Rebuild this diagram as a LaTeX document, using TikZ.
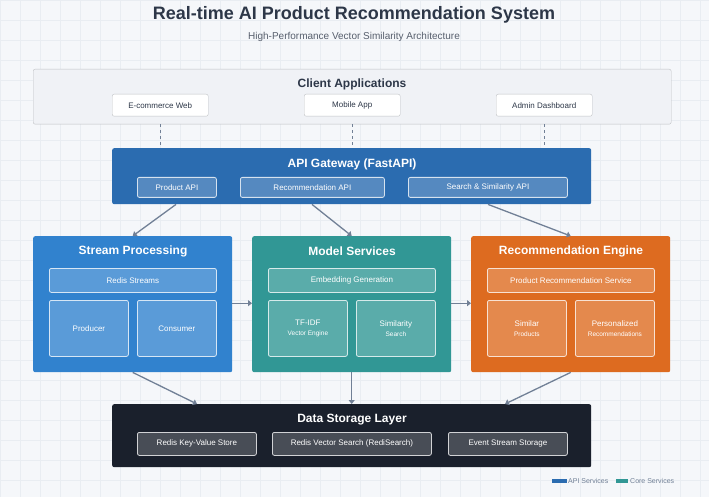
\documentclass[tikz,border=0pt]{standalone}
\usepackage{fontspec}
\setmainfont{Liberation Sans}
\usetikzlibrary{calc,arrows.meta}

\definecolor{bgc}{HTML}{F5F7FA}
\definecolor{gridc}{HTML}{E9EDF2}
\definecolor{apiblue}{HTML}{2B6CB0}
\definecolor{streamblue}{HTML}{3182CE}
\definecolor{coreteal}{HTML}{319795}
\definecolor{recorange}{HTML}{DD6B20}
\definecolor{darkc}{HTML}{1A202C}
\definecolor{linkc}{HTML}{718096}
\definecolor{titlec}{HTML}{2D3748}

\tikzset{
  panel/.style={draw=none, rounded corners=2pt, anchor=north west, inner sep=0pt},
  inner/.style={draw=white!80!#1, fill=white!20!#1, rounded corners=2pt, line width=0.8pt,
    anchor=north west, inner sep=0pt, text=white, font=\fontsize{8}{9}\selectfont, align=center},
  head/.style={font=\bfseries\fontsize{12}{14}\selectfont, text=white},
  link/.style={draw=linkc, line width=1.3pt, -{Triangle[width=6pt,length=4pt]}},
}

\begin{document}
\begin{tikzpicture}[x=1pt,y=-1pt]
\useasboundingbox (0,0) rectangle (709,497);
\fill[bgc] (0,0) rectangle (709,497);
% background grid
\foreach \g in {0,20,...,700} \draw[gridc, line width=0.4pt] (\g,0) -- (\g,497);
\foreach \g in {0,20,...,480} \draw[gridc, line width=0.4pt] (0,\g) -- (709,\g);

\node[font=\bfseries\fontsize{18}{20}\selectfont, text=titlec] (title) at (354,15) {Real-time AI Product Recommendation System};
\node[font=\fontsize{10}{12}\selectfont, text=titlec!80] (sub) at (354,37) {High-Performance Vector Similarity Architecture};

% clients
\node[panel, fill=gridc!70, draw=gridc!60!gray, minimum width=638, minimum height=55] (client) at (33,69) {};
\node[font=\bfseries\fontsize{12}{14}\selectfont, text=titlec] at (352,84) {Client Applications};
\foreach \x/\n/\t in {112/web/E-commerce Web, 304/mob/Mobile App, 496/adm/Admin Dashboard}
  \node[panel, fill=white, draw=gridc!60!gray, minimum width=96, minimum height=22, font=\fontsize{8}{9}\selectfont, text=titlec] (\n) at (\x,94) {\t};

% gateway
\node[panel, fill=apiblue, minimum width=479, minimum height=56] (api) at (112,148) {};
\node[head] at (352,164) {API Gateway (FastAPI)};
\node[inner=apiblue, minimum width=79, minimum height=20] (papi) at (137,177) {Product API};
\node[inner=apiblue, minimum width=144, minimum height=20] (rapi) at (240,177) {Recommendation API};
\node[inner=apiblue, minimum width=159, minimum height=20] (sapi) at (408,177) {Search \& Similarity API};

\foreach \n in {web,mob,adm}
  \draw[linkc, dashed, line width=1pt] (\n |- client.south) -- (\n |- api.north);

% middle layer
\foreach \x/\n/\c/\t/\a in {
  33/stream/streamblue/Stream Processing/Redis Streams,
  252/model/coreteal/Model Services/Embedding Generation,
  471/rec/recorange/Recommendation Engine/Product Recommendation Service}
{
  \node[panel, fill=\c, minimum width=199, minimum height=136] (\n) at (\x,236) {};
  \node[head] at (\x+100,251) {\t};
  \node[inner=\c, minimum width=167, minimum height=24] (\n top) at (\x+16,268) {\a};
}
\node[inner=streamblue, minimum width=79, minimum height=56] (prod) at (49,300) {Producer};
\node[inner=streamblue, minimum width=79, minimum height=56] (cons) at (137,300) {Consumer};
\node[inner=coreteal, minimum width=79, minimum height=56] (tfidf) at (268,300) {TF-IDF\\[1pt]{\fontsize{6.5}{7}\selectfont Vector Engine}};
\node[inner=coreteal, minimum width=79, minimum height=56] (simi) at (356,300) {Similarity\\[1pt]{\fontsize{6.5}{7}\selectfont Search}};
\node[inner=recorange, minimum width=79, minimum height=56] (simp) at (487,300) {Similar\\[1pt]{\fontsize{6.5}{7}\selectfont Products}};
\node[inner=recorange, minimum width=79, minimum height=56] (pers) at (575,300) {Personalized\\[1pt]{\fontsize{6.5}{7}\selectfont Recommendations}};

% storage
\node[panel, fill=darkc, minimum width=479, minimum height=63] (store) at (112,404) {};
\node[head] at (352,420) {Data Storage Layer};
\node[inner=darkc, minimum width=119, minimum height=23] (kv) at (137,432) {Redis Key-Value Store};
\node[inner=darkc, minimum width=159, minimum height=23] (vs) at (272,432) {Redis Vector Search (RediSearch)};
\node[inner=darkc, minimum width=119, minimum height=23] (ev) at (448,432) {Event Stream Storage};

% connectors
\draw[link] ($(api.south west)+(64,0)$) -- (stream.north);
\draw[link] ($(api.south west)+(200,0)$) -- (model.north);
\draw[link] ($(api.south west)+(376,0)$) -- (rec.north);
\draw[link] ($(stream.east)+(0,-1)$) -- ($(model.west)+(0,-1)$);
\draw[link] ($(model.east)+(0,-1)$) -- ($(rec.west)+(0,-1)$);
\draw[link] (stream.south) -- ($(store.north west)+(85,0)$);
\draw[link] (model.south) -- (store.north);
\draw[link] (rec.south) -- ($(store.north west)+(393,0)$);

% legend
\fill[apiblue] (552,479) rectangle (567,483);
\node[anchor=west, inner sep=0pt, font=\fontsize{7}{8}\selectfont, text=linkc] (lapi) at (568,481) {API Services};
\fill[coreteal] (616,479) rectangle (628,483);
\node[anchor=west, inner sep=0pt, font=\fontsize{7}{8}\selectfont, text=linkc] (lcore) at (630,481) {Core Services};
\end{tikzpicture}
\end{document}
